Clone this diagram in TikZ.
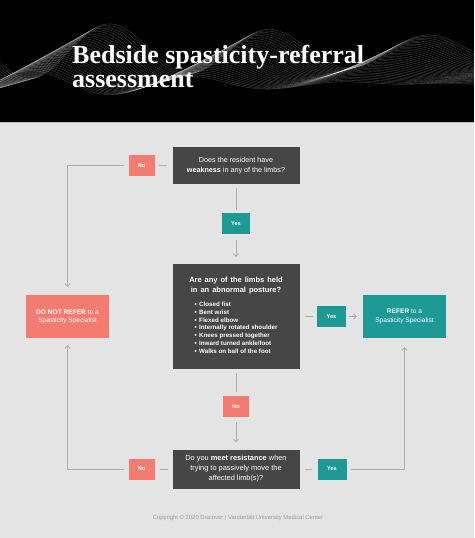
\documentclass[tikz,border=0pt]{standalone}
\usepackage{fontspec}
\setmainfont{Liberation Sans}
\newfontfamily\titlefont{Liberation Serif}
\usetikzlibrary{arrows.meta,positioning}
\definecolor{panel}{HTML}{E4E4E4}
\definecolor{ask}{HTML}{464646}
\definecolor{nope}{HTML}{F47B70}
\definecolor{yep}{HTML}{1E9A96}
\definecolor{wire}{HTML}{ADADAD}
\definecolor{fine}{HTML}{9A9A9A}
\tikzset{
  qbox/.style={fill=ask,text=white,align=center,inner sep=0pt,minimum width=127pt},
  tag/.style={text=white,font=\bfseries\fontsize{5.6}{6}\selectfont,minimum height=21pt,inner sep=0pt},
  notag/.style={tag,fill=nope,minimum width=26pt},
  yestag/.style={tag,fill=yep,minimum width=29pt},
  outbox/.style={text=white,align=center,minimum width=83pt,minimum height=43pt,inner sep=0pt,font=\fontsize{6.6}{8.2}\selectfont},
  link/.style={draw=wire,line width=0.9pt},
  goto/.style={link,-{Straight Barb[length=2.5pt,width=5pt]}}
}

\begin{document}
\begin{tikzpicture}[x=1pt,y=-1pt]
\useasboundingbox (0,0) rectangle (474,538);
\fill[panel] (0,0) rectangle (474,538);
\fill[black] (0,0) rectangle (474,122);
\draw[white!75!black,line width=1.2pt] (0,122.5) -- (474,122.5);
\foreach \i in {0,...,31}
  \draw[white,opacity=0.3,line width=0.3pt] plot[domain=0:474,samples=100]
    (\x,{50+1.1*\i-(30-0.035*\x-0.5*\i)*cos((\x-110+2.5*\i)*2.25)});
\node[anchor=north west,inner sep=0pt,text=white,align=left,
  font=\titlefont\bfseries\fontsize{26}{22}\selectfont] (title) at (72,45)
  {Bedside spasticity-referral\\[2pt]assessment};

\node[qbox,minimum height=37pt,font=\fontsize{7.2}{9.5}\selectfont] (q1) at (236,165.5)
  {Does the resident have\\\textbf{weakness} in any of the limbs?};
\node[notag] (no1) at (141.5,165.5) {No};
\node[yestag,minimum width=28pt] (yes1) at (236,223.5) {Yes};
\node[qbox,minimum height=105pt,text width=126pt] (q2) at (236,316.5)
  {{\bfseries\fontsize{7.5}{9.5}\selectfont\spaceskip=0pt Are any of the limbs held\\in an abnormal posture?\par}
   \vspace{6pt}
   {\bfseries\fontsize{6.2}{7.8}\selectfont\spaceskip=0pt
   \begin{tabular}{@{}l@{}}
   \textbullet\hspace{2.5pt}Closed fist\\
   \textbullet\hspace{2.5pt}Bent wrist\\
   \textbullet\hspace{2.5pt}Flexed elbow\\
   \textbullet\hspace{2.5pt}Internally rotated shoulder\\
   \textbullet\hspace{2.5pt}Knees pressed together\\
   \textbullet\hspace{2.5pt}Inward turned ankle/foot\\
   \textbullet\hspace{2.5pt}Walks on ball of the foot
   \end{tabular}\par}};
\node[outbox,fill=nope] (dnr) at (67.5,316.5) {\textbf{DO NOT REFER} to a\\Spasticity Specialist};
\node[yestag] (yes2) at (331.5,316.5) {Yes};
\node[outbox,fill=yep] (refer) at (404.5,316.5) {\textbf{REFER} to a\\Spasticity Specialist};
\node[notag] (no2) at (236,406.5) {No};
\node[qbox,minimum height=39pt,font=\fontsize{7.4}{10}\selectfont] (q3) at (236,469)
  {Do you \textbf{meet resistance} when\\trying to passively move the\\affected limb(s)?};
\node[notag] (no3) at (141.5,469) {No};
\node[yestag] (yes3) at (332,469) {Yes};

\draw[link,shorten <=5pt,shorten >=4pt] (q1) -- (no1);
\draw[goto,shorten <=4pt,shorten >=8pt] (no1) -| (dnr);
\draw[link,shorten <=4pt,shorten >=3pt] (q1) -- (yes1);
\draw[goto,shorten <=6pt,shorten >=7pt] (yes1) -- (q2);
\draw[link,shorten <=5pt,shorten >=4pt] (q2) -- (yes2);
\draw[goto,shorten <=3pt,shorten >=6pt] (yes2) -- (refer);
\draw[link,shorten <=4pt,shorten >=4pt] (q2) -- (no2);
\draw[goto,shorten <=5pt,shorten >=7pt] (no2) -- (q3);
\draw[link,shorten <=4pt,shorten >=5pt] (q3) -- (no3);
\draw[goto,shorten <=4pt,shorten >=7pt] (no3) -| (dnr);
\draw[link,shorten <=5pt,shorten >=5pt] (q3) -- (yes3);
\draw[goto,shorten <=4pt,shorten >=9pt] (yes3) -| (refer);

\node[text=fine,font=\fontsize{5.9}{7}\selectfont] (copy) at (238,518)
  {Copyright \textcopyright{} 2020 Discover \textbar{} Vanderbilt University Medical Center};
\end{tikzpicture}
\end{document}
